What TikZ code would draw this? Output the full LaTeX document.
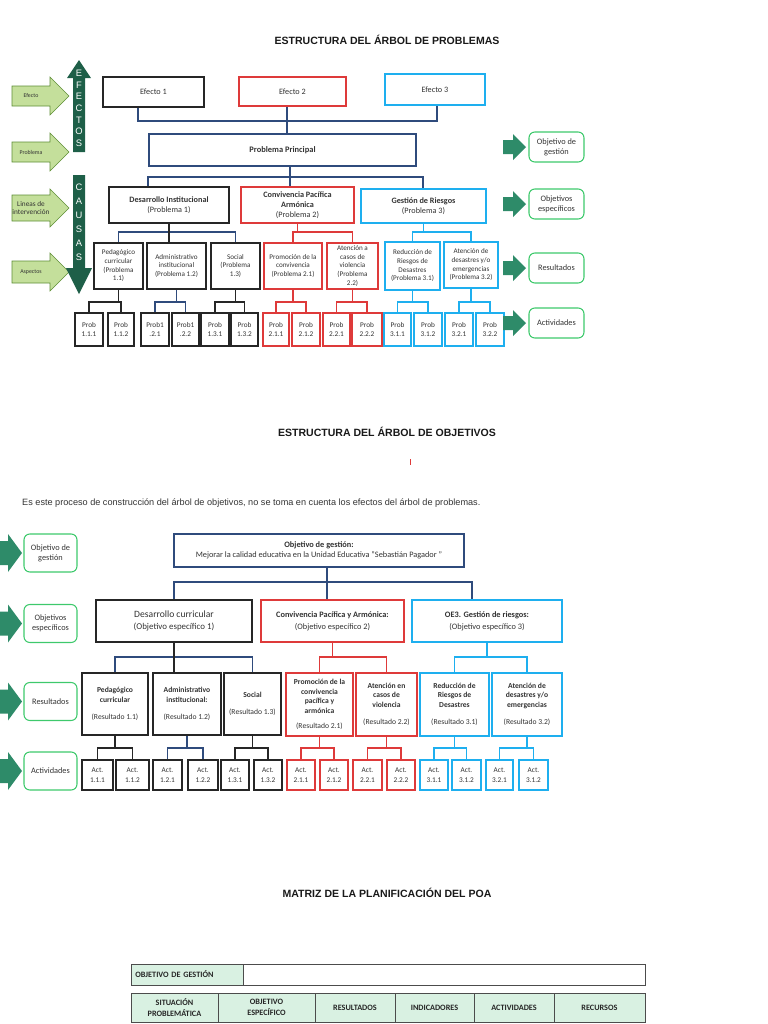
\documentclass[tikz,border=0pt]{standalone}
\usepackage{fontspec}
\setmainfont{Carlito}
\newfontfamily\arialfont{Liberation Sans}

\definecolor{navyline}{HTML}{2F4B7C}
\definecolor{redline}{HTML}{DE3A3A}
\definecolor{cyanline}{HTML}{1EAFEF}
\definecolor{causegreen}{HTML}{1E5F48}
\definecolor{leafgreen}{HTML}{C4DF9B}
\definecolor{leafedge}{HTML}{5E8F36}
\definecolor{tealgreen}{HTML}{2E8B69}
\definecolor{roundgreen}{HTML}{3EC96C}
\definecolor{cellgreen}{HTML}{D9F1E2}

% parent -> bar -> two outer children
\newcommand\treefork[5][conn]{%
  \draw[#1] (#2.south) -- (#2.south |- 0,#5);
  \draw[#1] (#3.north) |- (#4.north |- 0,#5) -- (#4.north);}

\tikzset{
  boxat/.style args={#1/#2/#3/#4}{at={({((#1)+(#3))/2},{((#2)+(#4))/2})},
    minimum width={((#3)-(#1))*0.03cm}, minimum height={((#4)-(#2))*0.03cm}},
  conn/.style={draw=navyline, line width=1.1pt},
  kconn/.style={conn, draw=black!85},
  rconn/.style={conn, draw=redline},
  cconn/.style={conn, draw=cyanline},
  bx/.style={draw=black!85, line width=0.9pt, fill=white, inner sep=0pt,
    align=center, text=black!80, font=\fontsize{6.1}{7.4}\selectfont},
  rbx/.style={bx, draw=redline},
  cbx/.style={bx, draw=cyanline},
  nbx/.style={bx, draw=navyline},
  gbox/.style={draw=roundgreen, line width=0.9pt, rounded corners=5pt, inner sep=0pt,
    align=center, text=black!80, font=\fontsize{7.1}{8.4}\selectfont},
  leaf/.style={fill=leafgreen, draw=leafedge, line width=0.5pt},
  heading/.style={font=\arialfont\bfseries\fontsize{9}{11}\selectfont, text=black!90},
  vlet/.style={text=white, font=\arialfont\fontsize{8}{9}\selectfont},
  tcell/.style={draw=black!70, line width=0.7pt, inner sep=0pt, align=center,
    text=black!85, font=\bfseries\fontsize{7}{9.4}\selectfont}
}

\begin{document}
\begin{tikzpicture}[x=0.03cm, y=-0.03cm]
  \useasboundingbox (0,0) rectangle (768,1024);

  % ---------- arbol de problemas ----------
  \node[heading] (tprob) at (387,40) {ESTRUCTURA DEL ÁRBOL DE PROBLEMAS};

  \foreach \y/\h/\t/\s [count=\i] in {96/10/Efecto/5, 152/10/Problema/5,
      208/13/{Lineas de\\intervención}/6.2, 272/11/Aspectos/5} {
    \draw[leaf] (12,\y-\h) -- (50,\y-\h) -- (50,\y-19) -- (69,\y) -- (50,\y+19)
      -- (50,\y+\h) -- (12,\y+\h) -- cycle;
    \node[align=center, text=black!80, font=\fontsize{\s}{7}\selectfont] (hoja\i) at (31,\y) {\t};
  }
  \fill[causegreen] (73,152) -- (73,78) -- (67,78) -- (79,60) -- (91,78) -- (85,78) -- (85,152) -- cycle;
  \fill[causegreen] (73,175) -- (85,175) -- (85,268) -- (92,268) -- (79,294) -- (66,268) -- (73,268) -- cycle;
  \foreach \c [count=\i] in {E,F,E,C,T,O,S}
    \node[vlet] (efl\i) at (79,61.5+11.67*\i) {\c};
  \foreach \c [count=\i] in {C,A,U,S,A,S}
    \node[vlet] (cal\i) at (79,173+14*\i) {\c};

  \node[bx, boxat=103/77/204/107, font=\fontsize{7}{8}\selectfont] (ef1) {Efecto 1};
  \node[rbx, boxat=239/77/346/106, font=\fontsize{7}{8}\selectfont] (ef2) {Efecto 2};
  \node[cbx, boxat=385/74/485/105, font=\fontsize{7}{8}\selectfont] (ef3) {Efecto 3};
  \node[nbx, boxat=149/134/416/166, font=\bfseries\fontsize{7.2}{8.5}\selectfont] (pp) {Problema Principal};

  \node[bx, boxat=109/187/229/223, font=\fontsize{7}{8.4}\selectfont] (p1)
    {\textbf{Desarrollo Institucional}\\(Problema 1)};
  \node[rbx, boxat=241/187/354/223, font=\fontsize{7}{8.4}\selectfont] (p2)
    {\textbf{Convivencia Pacífica}\\\textbf{Armónica}\\(Problema 2)};
  \node[cbx, boxat=361/189/486/223, font=\fontsize{7}{8.4}\selectfont] (p3)
    {\textbf{Gestión de Riesgos}\\(Problema 3)};

  \node[bx, boxat=94/243/143/289] (q11) {Pedagógico\\curricular\\(Problema\\1.1)};
  \node[bx, boxat=147/243/206/289] (q12) {Administrativo\\institucional\\(Problema 1.2)};
  \node[bx, boxat=211/243/260/289] (q13) {Social\\(Problema\\1.3)};
  \node[rbx, boxat=264/243/322/289] (q21) {Promoción de la\\convivencia\\(Problema 2.1)};
  \node[rbx, boxat=327/243/378/289] (q22) {Atención a\\casos de\\violencia\\(Problema\\2.2)};
  \node[cbx, boxat=385/242/440/290] (q31) {Reducción de\\Riesgos de\\Desastres\\(Problema 3.1)};
  \node[cbx, boxat=444/242/498/288] (q32) {Atención de\\desastres y/o\\emergencias\\(Problema 3.2)};

  \foreach \nm/\xa/\xb/\col/\t in {
      111/75/103/black!85/{Prob\\1.1.1}, 112/108/134/black!85/{Prob\\1.1.2},
      121/141/169/black!85/{Prob1\\.2.1}, 122/172/199/black!85/{Prob1\\.2.2},
      131/201/229/black!85/{Prob\\1.3.1}, 132/231/258/black!85/{Prob\\1.3.2},
      211/263/289/redline/{Prob\\2.1.1}, 212/292/320/redline/{Prob\\2.1.2},
      221/323/350/redline/{Prob\\2.2.1}, 222/352/382/redline/{Prob\\2.2.2},
      311/384/411/cyanline/{Prob\\3.1.1}, 312/414/442/cyanline/{Prob\\3.1.2},
      321/445/473/cyanline/{Prob\\3.2.1}, 322/476/504/cyanline/{Prob\\3.2.2}}
    \node[bx, draw=\col, boxat=\xa/313/\xb/346, font=\fontsize{6.2}{8}\selectfont] (r\nm) {\t};

  % conectores
  \draw[conn] (ef1.south -| 138,0) -- (138,121) -- (437,121) -- (ef3.south -| 437,0);
  \draw[conn, line width=1.5pt] (ef2.south -| 287,0) -- (pp.north -| 287,0);
  \draw[conn, line width=1.5pt] (pp.south -| 290,0) -- (290,177) -- (p2.north -| 290,0);
  \draw[conn] (p1.north -| 148,0) -- (148,177) -- (423,177) -- (p3.north -| 423,0);

  \treefork{p1}{q11}{q13}{232}
  \draw[kconn] (p1.south) -- (p1.south |- q12.north);
  \treefork[rconn]{p2}{q21}{q22}{232}
  \treefork[cconn]{p3}{q31}{q32}{232}

  \treefork[kconn]{q11}{r111}{r112}{302}
  \treefork{q12}{r121}{r122}{302}
  \treefork[kconn]{q13}{r131}{r132}{302}
  \treefork[rconn]{q21}{r211}{r212}{302}
  \treefork[rconn]{q22}{r221}{r222}{302}
  \treefork[cconn]{q31}{r311}{r312}{302}
  \treefork[cconn]{q32}{r321}{r322}{302}

  \foreach \y/\t [count=\i] in {147/{Objetivo de\\gestión}, 204/{Objetivos\\específicos},
      268/Resultados, 323/Actividades} {
    \fill[tealgreen] (503,\y-7) -- (513,\y-7) -- (513,\y-13) -- (526,\y) -- (513,\y+13)
      -- (513,\y+7) -- (503,\y+7) -- cycle;
    \node[gbox, boxat=529/\y-15/584/\y+15] (nivel\i) {\t};
  }

  % ---------- arbol de objetivos ----------
  \node[heading] (tobj) at (387,432) {ESTRUCTURA DEL ÁRBOL DE OBJETIVOS};
  \draw[redline, line width=0.6pt] (410,459) -- (410,465);
  \node[anchor=west, inner sep=0pt, text=black!80, font=\arialfont\fontsize{7.8}{9}\selectfont] (nota) at (22,503)
    {Es este proceso de construcción del árbol de objetivos, no se toma en cuenta los efectos del árbol de problemas.};

  \foreach \y/\t [count=\i] in {553/{Objetivo de\\gestión}, 623.5/{Objetivos\\específicos},
      701.5/Resultados, 771/Actividades} {
    \fill[tealgreen] (0,\y-12) -- (8,\y-12) -- (8,\y-19) -- (22,\y) -- (8,\y+19)
      -- (8,\y+12) -- (0,\y+12) -- cycle;
    \node[gbox, boxat=24/\y-19/77/\y+19] (nivelo\i) {\t};
  }

  \node[nbx, boxat=174/534/464/567, font=\fontsize{7.1}{8.8}\selectfont] (og)
    {\textbf{Objetivo de gestión:}\\Mejorar la calidad educativa en la Unidad Educativa "Sebastián Pagador "};

  \node[bx, boxat=96/600/252/642, font=\fontsize{7.6}{10}\selectfont] (o1)
    {{\fontsize{8.2}{10}\selectfont Desarrollo curricular}\\(Objetivo específico 1)};
  \node[rbx, boxat=261/600/404/642, font=\fontsize{7.1}{10}\selectfont] (o2)
    {\textbf{Convivencia Pacífica y Armónica:}\\(Objetivo específico 2)};
  \node[cbx, boxat=412/600/562/642, font=\fontsize{7.1}{10}\selectfont] (o3)
    {\textbf{OE3. Gestión de riesgos:}\\(Objetivo específico 3)};

  \node[bx, boxat=82/673/148/735, font=\fontsize{6.5}{8}\selectfont] (s11)
    {\textbf{Pedagógico}\\\textbf{curricular}\\[7pt](Resultado 1.1)};
  \node[bx, boxat=153/673/221/735, font=\fontsize{6.5}{8}\selectfont] (s12)
    {\textbf{Administrativo}\\\textbf{institucional:}\\[7pt](Resultado 1.2)};
  \node[bx, boxat=224/673/281/735, font=\fontsize{6.5}{8}\selectfont] (s13)
    {\textbf{Social}\\[7pt](Resultado 1.3)};
  \node[rbx, boxat=286/673/353/736, font=\fontsize{6.5}{8}\selectfont] (s21)
    {\textbf{Promoción de la}\\\textbf{convivencia}\\\textbf{pacífica y}\\\textbf{armónica}\\[5pt](Resultado 2.1)};
  \node[rbx, boxat=356/673/417/736, font=\fontsize{6.5}{8}\selectfont] (s22)
    {\textbf{Atención en}\\\textbf{casos de}\\\textbf{violencia}\\[7pt](Resultado 2.2)};
  \node[cbx, boxat=420/673/489/736, font=\fontsize{6.5}{8}\selectfont] (s31)
    {\textbf{Reducción de}\\\textbf{Riesgos de}\\\textbf{Desastres}\\[7pt](Resultado 3.1)};
  \node[cbx, boxat=492/673/562/736, font=\fontsize{6.5}{8}\selectfont] (s32)
    {\textbf{Atención de}\\\textbf{desastres y/o}\\\textbf{emergencias}\\[7pt](Resultado 3.2)};

  \foreach \nm/\xa/\xb/\col/\t in {
      111/82/113/black!85/{1.1.1}, 112/116/149/black!85/{1.1.2},
      121/153/182/black!85/{1.2.1}, 122/188/218/black!85/{1.2.2},
      131/221/249/black!85/{1.3.1}, 132/254/282/black!85/{1.3.2},
      211/287/315/redline/{2.1.1}, 212/320/348/redline/{2.1.2},
      221/353/382/redline/{2.2.1}, 222/387/415/redline/{2.2.2},
      311/420/448/cyanline/{3.1.1}, 312/452/481/cyanline/{3.1.2},
      321/486/513/cyanline/{3.2.1}, 322/519/548/cyanline/{3.1.2}}
    \node[bx, draw=\col, boxat=\xa/760/\xb/790, font=\fontsize{6.2}{8.2}\selectfont] (a\nm) {Act.\\\t};

  \draw[conn] (og.south -| 327,0) -- (o2.north -| 327,0);
  \draw[conn] (o1.north) |- (472,582) -- (o3.north -| 472,0);

  \treefork{o1}{s11}{s13}{657}
  \draw[kconn] (o1.south) -- (o1.south |- s12.north);
  \treefork[rconn]{o2}{s21}{s22}{657}
  \treefork[cconn]{o3}{s31}{s32}{657}

  \treefork[kconn]{s11}{a111}{a112}{748}
  \treefork{s12}{a121}{a122}{748}
  \treefork[kconn]{s13}{a131}{a132}{748}
  \treefork[rconn]{s21}{a211}{a212}{748}
  \treefork[rconn]{s22}{a221}{a222}{748}
  \treefork[cconn]{s31}{a311}{a312}{748}
  \treefork[cconn]{s32}{a321}{a322}{748}

  % ---------- matriz POA ----------
  \node[heading] (tpoa) at (387,893) {MATRIZ DE LA PLANIFICACIÓN DEL POA};
  \node[tcell, fill=cellgreen, boxat=131/964/243/985, text width=3.1cm, align=left] (tog) {OBJETIVO DE GESTIÓN};
  \node[tcell, boxat=243/964/645/985] (togv) {};
  \foreach \xa/\xb/\t [count=\i] in {131/218/{SITUACIÓN\\PROBLEMÁTICA}, 218/315/{OBJETIVO\\ESPECÍFICO},
      315/395/RESULTADOS, 395/474/INDICADORES, 474/554/ACTIVIDADES, 554/645/RECURSOS}
    \node[tcell, fill=cellgreen, boxat=\xa/993/\xb/1022] (th\i) {\t};
\end{tikzpicture}
\end{document}
